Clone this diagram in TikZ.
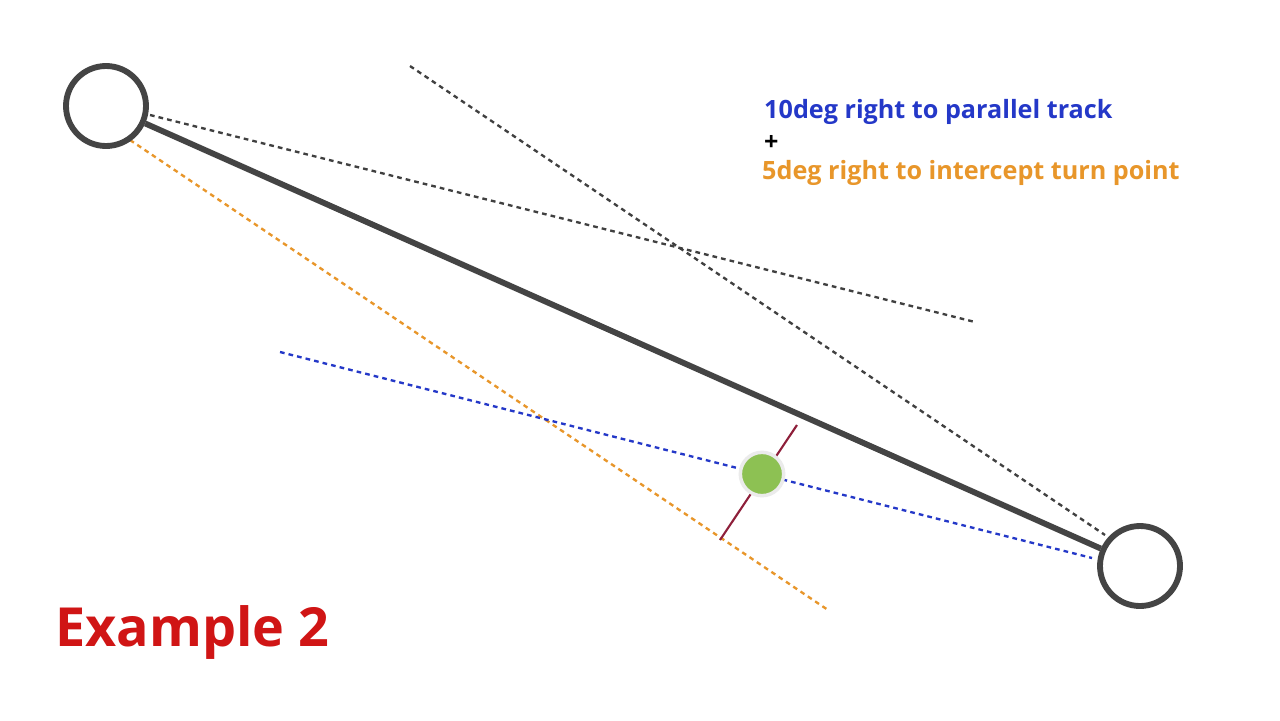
\documentclass[tikz,border=0pt]{standalone}
\usepackage{fontspec}
\setmainfont{Open Sans}
\usepackage{xcolor}
\usepackage{tikz}
\usetikzlibrary{positioning}
\definecolor{trackgray}{HTML}{444444}
\definecolor{legblue}{HTML}{2438C8}
\definecolor{legorange}{HTML}{E8962A}
\definecolor{dotgreen}{HTML}{8DC153}
\definecolor{xtkred}{HTML}{8E1F3A}
\definecolor{titlered}{HTML}{D01515}

\begin{document}
\begin{tikzpicture}[x=0.03cm,y=-0.03cm,
    wpt/.style={circle,draw=trackgray,line width=5pt,minimum size=2.4cm,inner sep=0pt,fill=white},
    dashline/.style={line width=2pt,dash pattern=on 4pt off 3.5pt},
    legend/.style={anchor=west,inner sep=0pt,font=\fontsize{21.5}{24}\selectfont\bfseries}]
            \useasboundingbox[fill=white] (0,0) rectangle (1280,720);
            % free ends of the dashed tracks
            \coordinate (blkA) at (975,322);
            \coordinate (blkB) at (410,66);
            \coordinate (orgA) at (130,140);
            \coordinate (orgB) at (828,610);
            \coordinate (bluA) at (280,352);
            \coordinate (bluB) at (1092,558);
            \coordinate (xtkA) at (797,425);
            \coordinate (xtkB) at (720,540);
            \draw[dashline,black!75] (150,115) -- (blkA);
            \draw[dashline,black!75] (blkB) -- (1105,535);
            \draw[dashline,legorange] (orgA) -- (orgB);
            \draw[dashline,legblue] (bluA) -- (bluB);
            \draw[xtkred,line width=1.8pt] (xtkA) -- (xtkB);
            \node[wpt] (wpA) at (106,106) {};
            \node[wpt] (wpB) at (1140,566) {};
            \draw[trackgray,line width=5pt] (wpA) -- (wpB);
            \node[circle,fill=dotgreen,draw=black!8,line width=3pt,minimum size=1.3cm,inner sep=0pt] (acft) at (762,474) {};
            \node[legend,text=legblue] (lgOne) at (764,112) {10deg right to parallel track};
            \node[legend,text=black] (lgPlus) at (764,143) {+};
            \node[legend,text=legorange] (lgTwo) at (762,173) {5deg right to intercept turn point};
            \node[anchor=west,inner sep=0pt,text=titlered,font=\fontsize{46}{52}\selectfont\bfseries] (title) at (55,632) {Example 2};
        \end{tikzpicture}
\end{document}
